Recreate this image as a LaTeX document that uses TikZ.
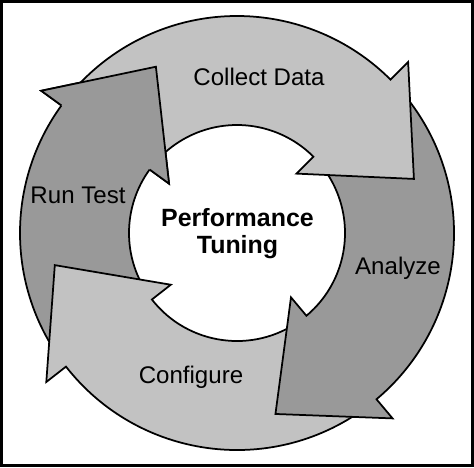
\documentclass[tikz,border=0pt]{standalone}
\usepackage{fontspec}
\setmainfont{Liberation Sans}
\definecolor{lightarrow}{gray}{0.76}
\definecolor{darkarrow}{gray}{0.6}
\begin{document}
\begin{tikzpicture}[
      arrowpart/.style={draw=black, line width=0.035cm, line join=miter},
      lbl/.style={font=\fontsize{13.7}{16}\selectfont, anchor=base, inner sep=0pt},
      title/.style={font=\fontsize{14.2}{15.4}\selectfont\bfseries, align=center, inner sep=0pt}
    ]
    \useasboundingbox (-4.74,-4.68) rectangle (4.74,4.66);
    \draw[line width=0.06cm] (-4.71,-4.65) rectangle (4.71,4.63);
    % ring arrows: tail angle / head angle / colour
    \foreach \nm/\a/\b/\col in {runtest/214/144/darkarrow,configure/-54/-142/lightarrow,analyze/41/-50/darkarrow,collect/140/45/lightarrow} {
      \draw[arrowpart, fill=\col] (\a:4.34cm) arc[start angle=\a, end angle=\b, radius=4.34cm]
        -- (\b:4.84cm) -- ({\b-28}:3.7cm) -- (\b:1.68cm) -- (\b:2.16cm)
        arc[start angle=\b, end angle=\a, radius=2.16cm] -- cycle;
    }
    % head of run test lies over the tail of collect data
    \fill[darkarrow] (144:4.84cm) -- (116:3.7cm) -- (144:1.68cm) -- cycle;
    \draw[arrowpart] (144:4.34cm) -- (144:4.84cm) -- (116:3.7cm) -- (144:1.68cm) -- (144:2.16cm);
    \node[lbl] (collect) at (0.44,2.96) {Collect Data};
    \node[lbl] (analyze) at (3.22,-0.82) {Analyze};
    \node[lbl] (configure) at (-0.92,-3.0) {Configure};
    \node[lbl] (runtest) at (-3.18,0.6) {Run Test};
    \node[title] (tuning) at (0.01,-0.02) {Performance\\Tuning};
  \end{tikzpicture}
\end{document}
